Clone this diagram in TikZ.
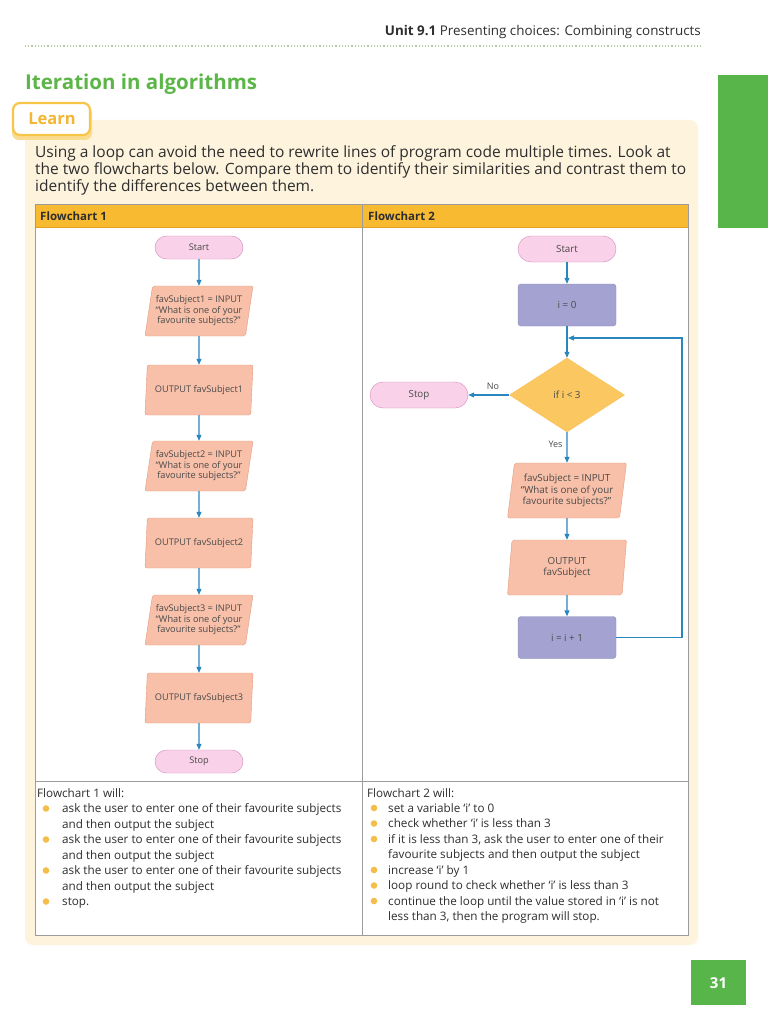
\documentclass[tikz,border=0pt]{standalone}
\usepackage{fontspec}
\setmainfont{Open Sans}
\newfontfamily\fcf{Open Sans}
\usetikzlibrary{shapes.geometric,arrows.meta}
\definecolor{gtitle}{HTML}{5BB647}
\definecolor{gtab}{HTML}{58B54A}
\definecolor{cream}{HTML}{FEF4DE}
\definecolor{learnB}{HTML}{F7C548}
\definecolor{learnT}{HTML}{F4B534}
\definecolor{thead}{HTML}{F8BA30}
\definecolor{theadB}{HTML}{E0A020}
\definecolor{tbord}{HTML}{9C9C9C}
\definecolor{termF}{HTML}{F9D1E8}
\definecolor{termB}{HTML}{D58ABD}
\definecolor{ioF}{HTML}{F8C0A9}
\definecolor{ioB}{HTML}{E39A7F}
\definecolor{procF}{HTML}{A4A2D0}
\definecolor{procB}{HTML}{8C89BE}
\definecolor{diaF}{HTML}{FBC760}
\definecolor{arrC}{HTML}{2A86BF}
\definecolor{bul}{HTML}{F5BE4B}
\definecolor{txt}{HTML}{2E2E2E}
\definecolor{fctxt}{HTML}{4A4A4A}
\definecolor{dots}{HTML}{B9C9A6}
\begin{document}
\begin{tikzpicture}[x=1pt,y=-1pt,
  fc/.style={font=\fcf\fontsize{9.2}{10.5}\selectfont, text=fctxt, align=center, inner sep=0pt},
  fcb/.style={font=\fcf\fontsize{9.8}{11.5}\selectfont, text=fctxt, align=center, inner sep=0pt},
  term/.style={fc, draw=termB, fill=termF, rounded corners=11.5pt, minimum width=88pt, minimum height=23pt},
  termb/.style={term, fcb, minimum width=98pt, minimum height=26pt, rounded corners=13pt},
  io/.style={fc, trapezium, trapezium left angle=76, trapezium right angle=104, trapezium stretches body, draw=ioB, fill=ioF, minimum width=108pt, minimum height=50pt, rounded corners=2pt},
  iob/.style={io, fcb, trapezium left angle=78, trapezium right angle=102, minimum width=119pt, minimum height=55pt},
  proc/.style={fcb, draw=procB, fill=procF, rounded corners=3pt, minimum width=98pt, minimum height=42pt},
  dia/.style={fcb, diamond, draw=diaF!90!orange, fill=diaF, minimum width=115pt, minimum height=74pt},
  arr/.style={draw=arrC, line width=1.1pt, -{Triangle[length=6pt,width=5pt]}},
  lbl/.style={font=\fcf\fontsize{9}{10}\selectfont, text=fctxt, inner sep=0pt},
  body/.style={font=\fontsize{11.7}{14}\selectfont, text=txt, anchor=base west, inner sep=0pt},
  intro/.style={font=\fontsize{15.5}{18}\selectfont, text=txt, anchor=base west, inner sep=0pt}
]
\useasboundingbox (0,0) rectangle (768,1024);
\fill[white] (0,0) rectangle (768,1024);
% header
\node[anchor=base east, inner sep=0pt, font=\fontsize{13.4}{15}\selectfont, text=txt] (hdr) at (701,36) {\textbf{Unit 9.1} Presenting choices: Combining constructs};
\draw[dots, line width=1.6pt, dash pattern=on 1.2pt off 2pt] (25,46) -- (701,46);
\fill[gtab] (718,75) rectangle (768,228);
\node[anchor=base west, inner sep=0pt, font=\bfseries\fontsize{20.5}{24}\selectfont, text=gtitle] (title) at (25,90) {Iteration in algorithms};
% cream box
\fill[cream, rounded corners=8pt] (25,120) rectangle (698,945);
% learn tab
\fill[learnB!60, rounded corners=7pt] (12,106) rectangle (92,140);
\draw[learnB, line width=2.2pt, fill=white, rounded corners=7pt] (13,103) rectangle (90,135);
\node[inner sep=0pt, font=\bfseries\fontsize{16.5}{18}\selectfont, text=learnT] (learn) at (52,119) {Learn};
% intro
\node[intro] (i1) at (35,158) {Using a loop can avoid the need to rewrite lines of program code multiple times. Look at};
\node[intro] (i2) at (35,175) {the two flowcharts below. Compare them to identify their similarities and contrast them to};
\node[intro] (i3) at (35,192) {identify the differences between them.};
% table
\fill[white] (35,205) rectangle (688,935);
\fill[thead] (35,205) rectangle (688,228);
\draw[theadB, line width=1pt] (35,228) -- (688,228);
\draw[tbord, line width=1pt] (35,205) rectangle (688,935);
\draw[tbord, line width=1pt] (362,205) -- (362,935);
\draw[tbord, line width=1pt] (35,781) -- (688,781);
\node[anchor=base west, inner sep=0pt, font=\bfseries\fontsize{11.5}{13}\selectfont, text=txt] (h1) at (40,221) {Flowchart 1};
\node[anchor=base west, inner sep=0pt, font=\bfseries\fontsize{11.5}{13}\selectfont, text=txt] (h2) at (368,221) {Flowchart 2};
% flowchart 1
\node[term] (s1) at (199,247.5) {Start};
\node[io] (a1) at (199,311) {favSubject1 = INPUT\\“What is one of your\\favourite subjects?”};
\node[io] (b1) at (199,390) {OUTPUT favSubject1};
\node[io] (a2) at (199,466) {favSubject2 = INPUT\\“What is one of your\\favourite subjects?”};
\node[io] (b2) at (199,543) {OUTPUT favSubject2};
\node[io] (a3) at (199,620) {favSubject3 = INPUT\\“What is one of your\\favourite subjects?”};
\node[io] (b3) at (199,698) {OUTPUT favSubject3};
\node[term] (e1) at (199,761.5) {Stop};
\draw[arr] (s1) -- (a1);
\draw[arr] (a1) -- (b1);
\draw[arr] (b1) -- (a2);
\draw[arr] (a2) -- (b2);
\draw[arr] (b2) -- (a3);
\draw[arr] (a3) -- (b3);
\draw[arr] (b3) -- (e1);
% flowchart 2
\node[termb] (s2) at (567,249) {Start};
\node[proc] (p0) at (567,305) {i = 0};
\node[dia] (d) at (567,395) {if i < 3};
\node[termb] (e2) at (419,395) {Stop};
\node[iob] (a) at (567,490.5) {favSubject = INPUT\\“What is one of your\\favourite subjects?”};
\node[iob] (b) at (567,567.5) {OUTPUT\\favSubject};
\node[proc] (p1) at (567,637.5) {i = i + 1};
\coordinate (j) at (568,338);
\coordinate (r) at (682,338);
\draw[arr] (s2) -- (p0);
\draw[arr] (p0) -- (d);
\draw[arr] (d) -- node[lbl, above=5pt, pos=0.4] (no) {No} (e2);
\draw[arr] (d) -- node[lbl, left=4pt, pos=0.4] (yes) {Yes} (a);
\draw[arr] (a) -- (b);
\draw[arr] (b) -- (p1);
\draw[arr] (p1.east) -| (r) -- (j);
% bottom text left
\node[body] (l0) at (37,797) {Flowchart 1 will:};
\node[body] (l1) at (62,812.5) {ask the user to enter one of their favourite subjects};
\node[body] (l2) at (62,828) {and then output the subject};
\node[body] (l3) at (62,843.5) {ask the user to enter one of their favourite subjects};
\node[body] (l4) at (62,859) {and then output the subject};
\node[body] (l5) at (62,874.5) {ask the user to enter one of their favourite subjects};
\node[body] (l6) at (62,890) {and then output the subject};
\node[body] (l7) at (62,905.5) {stop.};
\foreach \yy in {812.5,843.5,874.5,905.5} \fill[bul] (46,\yy-4) circle (3.3pt);
% bottom text right
\node[body] (r0) at (367,797) {Flowchart 2 will:};
\node[body] (r1) at (388,812) {set a variable ‘i’ to 0};
\node[body] (r2) at (388,827.5) {check whether ‘i’ is less than 3};
\node[body] (r3) at (388,843) {if it is less than 3, ask the user to enter one of their};
\node[body] (r4) at (388,858.5) {favourite subjects and then output the subject};
\node[body] (r5) at (388,874) {increase ‘i’ by 1};
\node[body] (r6) at (388,889.5) {loop round to check whether ‘i’ is less than 3};
\node[body] (r7) at (388,905) {continue the loop until the value stored in ‘i’ is not};
\node[body] (r8) at (388,920.5) {less than 3, then the program will stop.};
\foreach \yy in {812,827.5,843,874,889.5,905} \fill[bul] (374,\yy-4) circle (3.3pt);
% page number
\fill[gtab] (691,960) rectangle (746,1005);
\node[inner sep=0pt, font=\bfseries\fontsize{15}{17}\selectfont, text=white] (pg) at (718.5,983) {31};
\end{tikzpicture}
\end{document}
